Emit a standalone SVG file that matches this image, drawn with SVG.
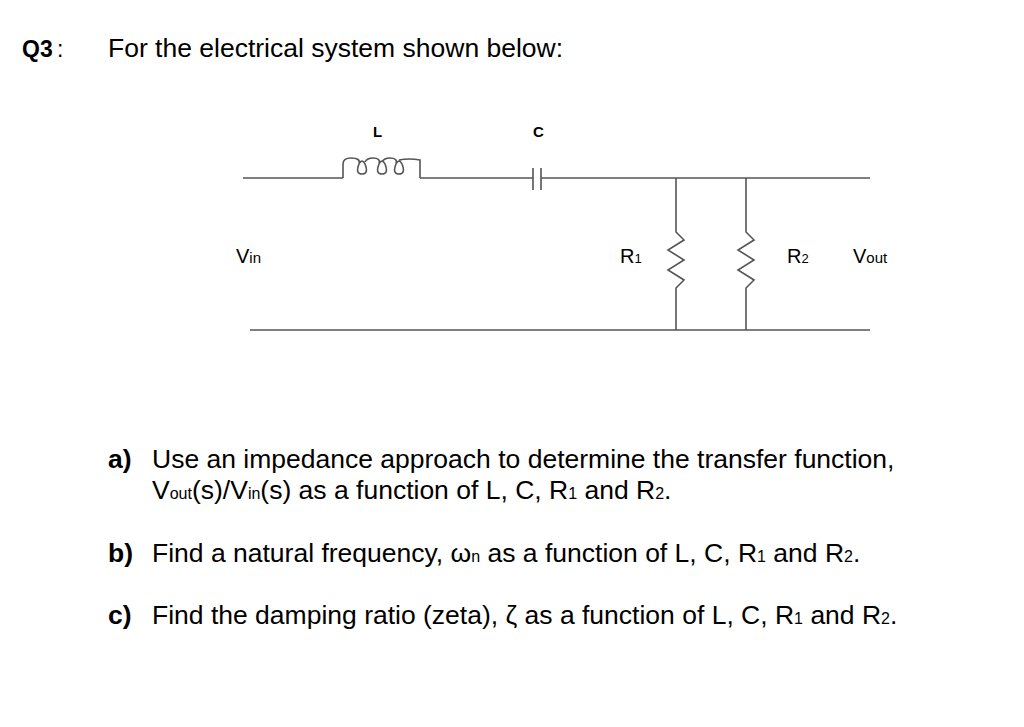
<svg xmlns="http://www.w3.org/2000/svg" width="1024" height="727" viewBox="0 0 1024 727">
<style>
text{font-family:"Liberation Sans",Arial,sans-serif;fill:#000}
.w{stroke:#555;stroke-width:1.6;fill:none}
.t{font-size:26.5px}
.s{font-size:15px}
.sub{font-size:16px}
</style>
<rect width="1024" height="727" fill="#fff"/>
<text x="22" y="57" font-size="23" font-weight="bold">Q3</text><text x="57" y="57" font-size="23">:</text>
<text x="108" y="57" class="t">For the electrical system shown below:</text>
<g id="connectors">
<path class="w" d="M243 178H343M420 178H533M541 178H870M250 330H870"/>
<path class="w" d="M676 178V232l8 8-16 10 16 10-16 10 16 10-8 8V330"/>
<path class="w" d="M746 178V232l8 8-16 10 16 10-16 10 16 10-8 8V330"/>
</g>
<g id="L">
<path class="w" stroke-width="1.4" d="M343 178V164q0-6 8-6q10 0 8 6M359 164q-4 10 3 10q7 0 3-10q-3-6-6 0M365 162q2-4 8-4q8 0 6 6q-4 10 3 10q7 0 3-10q-3-6-6 0M382 162q2-4 8-4q8 0 6 6q-4 10 3 10q7 0 3-10q-3-6-6 0M399 160q10-2 21 0V178"/>
<text x="373" y="137" class="s" font-weight="bold">L</text>
<path d="M0 0"/>
</g>
<g id="C">
<path class="w" d="M533 168V190M541 168V190"/>
<text x="533" y="137" class="s" font-weight="bold">C</text>
</g>
<g id="labels">
<text x="236" y="263" font-size="20">V<tspan font-size="15">in</tspan></text>
<text x="620" y="263" font-size="20">R<tspan font-size="13">1</tspan></text>
<text x="787" y="263" font-size="20">R<tspan font-size="13">2</tspan></text>
<text x="853" y="263" font-size="20">V<tspan font-size="15">out</tspan></text>
</g>
<g id="questions" class="t">
<text x="108" y="468" font-weight="bold">a)</text>
<text x="152" y="468">Use an impedance approach to determine the transfer function,</text>
<text x="152" y="499">V<tspan class="sub">out</tspan>(s)/V<tspan class="sub">in</tspan>(s) as a function of L, C, R<tspan class="sub">1</tspan> and R<tspan class="sub">2</tspan>.</text>
<text x="108" y="562" font-weight="bold">b)</text>
<text x="152" y="562">Find a natural frequency, ω<tspan class="sub">n</tspan> as a function of L, C, R<tspan class="sub">1</tspan> and R<tspan class="sub">2</tspan>.</text>
<text x="108" y="624" font-weight="bold">c)</text>
<text x="152" y="624">Find the damping ratio (zeta), ζ as a function of L, C, R<tspan class="sub">1</tspan> and R<tspan class="sub">2</tspan>.</text>
</g>
</svg>
